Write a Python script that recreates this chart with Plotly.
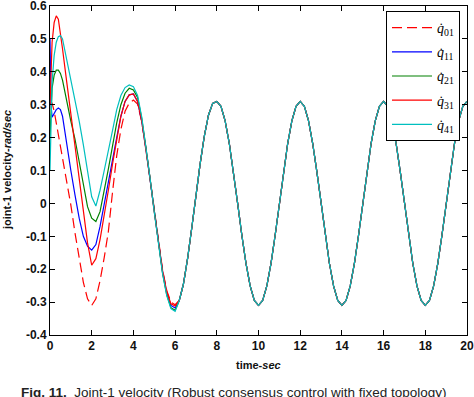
import numpy as np
import plotly.graph_objects as go

# ---- data ----
t_head = [0, 0.05, 0.1, 0.2, 0.3, 0.4, 0.5, 0.6, 0.8, 1.0, 1.2, 1.4, 1.6, 1.8, 2.0,
          2.2, 2.4, 2.6, 2.8, 3.0, 3.2, 3.4, 3.6, 3.8, 4.0, 4.2, 4.4, 4.6, 4.8, 5.0,
          5.2, 5.4, 5.6, 5.8, 6.0, 6.2, 6.4, 6.6, 6.8, 7.0, 7.2, 7.4, 7.6, 7.8]
t_tail = [round(v, 2) for v in np.arange(8.0, 20.0001, 0.2)]

common_62_78 = [-0.295, -0.245, -0.167, -0.074, 0.025, 0.12, 0.204, 0.268, 0.304]

q01_head = [0.30, 0.305, 0.305, 0.28, 0.245, 0.21, 0.175, 0.14,
            0.07, -0.005, -0.09, -0.17, -0.24, -0.29, -0.31, -0.29, -0.235, -0.165,
            -0.085, 0.035, 0.145, 0.225, 0.28, 0.305, 0.314, 0.302, 0.248, 0.168,
            0.078, -0.02, -0.118, -0.202, -0.265, -0.30, -0.308] + common_62_78
q11_head = [0.50, 0.30, 0.262, 0.272, 0.285, 0.29, 0.285, 0.265,
            0.175, 0.10, 0.025, -0.045, -0.10, -0.13, -0.142, -0.125, -0.07, 0.0,
            0.07, 0.135, 0.20, 0.265, 0.31, 0.33, 0.333, 0.31, 0.25, 0.166,
            0.074, -0.025, -0.122, -0.208, -0.272, -0.31, -0.318] + common_62_78
q21_head = [0.20, 0.30, 0.35, 0.39, 0.405, 0.405, 0.395, 0.375,
            0.31, 0.25, 0.195, 0.125, 0.05, -0.01, -0.045, -0.055, -0.025, 0.035,
            0.105, 0.175, 0.245, 0.30, 0.335, 0.35, 0.345, 0.322, 0.258, 0.17,
            0.076, -0.026, -0.125, -0.212, -0.278, -0.317, -0.325] + common_62_78
q31_head = [0.30, 0.42, 0.49, 0.55, 0.57, 0.56, 0.52, 0.47,
            0.37, 0.27, 0.17, 0.075, -0.02, -0.12, -0.188, -0.168, -0.11, -0.04,
            0.04, 0.12, 0.195, 0.265, 0.31, 0.33, 0.333, 0.31, 0.25, 0.166,
            0.074, -0.025, -0.121, -0.205, -0.268, -0.305, -0.312] + common_62_78
q41_head = [0.10, 0.28, 0.37, 0.45, 0.49, 0.507, 0.51, 0.50,
            0.44, 0.38, 0.318, 0.25, 0.178, 0.10, 0.02, -0.008, 0.04, 0.10,
            0.158, 0.222, 0.285, 0.328, 0.352, 0.36, 0.355, 0.328, 0.262, 0.172,
            0.077, -0.026, -0.126, -0.214, -0.28, -0.32, -0.328] + common_62_78

# steady-state part, identical for all joints (t = 8 ... 20)
tail = [0.31, 0.295, 0.251, 0.182, 0.096, 0.0, -0.096, -0.182, -0.251, -0.295,
        -0.31, -0.295, -0.251, -0.182, -0.096, 0.0, 0.096, 0.182, 0.251, 0.295,
        0.31, 0.295, 0.251, 0.182, 0.096, 0.0, -0.096, -0.182, -0.251, -0.295,
        -0.31, -0.295, -0.251, -0.182, -0.096, 0.0, 0.096, 0.182, 0.251, 0.295,
        0.31, 0.295, 0.251, 0.182, 0.096, 0.0, -0.096, -0.182, -0.251, -0.295,
        -0.31, -0.295, -0.251, -0.182, -0.096, 0.0, 0.096, 0.182, 0.251, 0.295,
        0.31]

series_names = ["<i>q̇</i><sub>01</sub>", "<i>q̇</i><sub>11</sub>", "<i>q̇</i><sub>21</sub>",
                "<i>q̇</i><sub>31</sub>", "<i>q̇</i><sub>41</sub>"]
series_heads = [q01_head, q11_head, q21_head, q31_head, q41_head]

x_ticks = [0, 2, 4, 6, 8, 10, 12, 14, 16, 18, 20]
x_tick_labels = ["0", "2", "4", "6", "8", "10", "12", "14", "16", "18", "20"]
y_ticks = [-0.4, -0.3, -0.2, -0.1, 0, 0.1, 0.2, 0.3, 0.4, 0.5, 0.6]
y_tick_labels = ["-0.4", "-0.3", "-0.2", "-0.1", "0", "0.1", "0.2", "0.3", "0.4", "0.5", "0.6"]

# ---- styles ----
colors = ["#ff0000", "#0000ff", "#008000", "#ff0000", "#00bfbf"]
dashes = ["10px,5px", "solid", "solid", "solid", "solid"]

t_all = t_head + t_tail
fig = go.Figure()
for i, (name, head) in enumerate(zip(series_names, series_heads)):
    fig.add_trace(go.Scatter(
        x=t_all, y=head + tail, mode="lines", name=name,
        legendgroup=f"g{i}",
        line=dict(color=colors[i], width=1.2, dash=dashes[i]),
    ))

W, H = 474, 397
ml, mr, mt, mb = 50, 7, 6, 62
pw, ph = W - ml - mr, H - mt - mb

def px_x(px):
    return (px - ml) / pw

def px_y(py):
    return (H - mb - py) / ph

tickfont = dict(family="Liberation Sans", size=12, color="#111111", weight="bold")
axis_common = dict(showgrid=False, zeroline=False, showline=True, linecolor="black",
                   linewidth=1, mirror="allticks", ticks="inside", ticklen=5,
                   tickcolor="black", tickwidth=1, tickfont=tickfont, automargin=False,
                   ticklabeloverflow="allow")

fig.update_layout(
    width=W, height=H,
    margin=dict(l=ml, r=mr, t=mt, b=mb, autoexpand=False),
    paper_bgcolor="white", plot_bgcolor="white",
    showlegend=True,
    legend=dict(x=px_x(386), y=px_y(11), xanchor="left", yanchor="top",
                bordercolor="black", borderwidth=1, bgcolor="white",
                traceorder="grouped", tracegroupgap=3, itemwidth=40,
                font=dict(family="Liberation Serif", size=14, color="black")),
    xaxis=dict(range=[0, 20], tickvals=x_ticks, ticktext=x_tick_labels, **axis_common),
    yaxis=dict(range=[-0.4, 0.6], tickvals=y_ticks, ticktext=y_tick_labels, **axis_common),
)

fig.add_annotation(text="time-<i>sec</i>", xref="paper", yref="paper",
                   x=px_x(258), y=px_y(365), xanchor="center", yanchor="middle",
                   showarrow=False,
                   font=dict(family="Liberation Sans", size=11, color="#111111", weight="bold"))
fig.add_annotation(text="joint-1 velocity-<i>rad/sec</i>", xref="paper", yref="paper",
                   x=px_x(7), y=px_y(170), xanchor="center", yanchor="middle",
                   textangle=-90, showarrow=False,
                   font=dict(family="Liberation Sans", size=11, color="#111111", weight="bold"))
fig.add_annotation(text="<b>Fig. 11.</b>  Joint-1 velocity (Robust consensus control with fixed topology)",
                   xref="paper", yref="paper", x=px_x(19), y=px_y(383),
                   xanchor="left", yanchor="top", showarrow=False,
                   font=dict(family="Liberation Sans", size=13.5, color="#222222"))

fig.write_html("out.html",
               config={"displayModeBar": False},
               post_script="document.body.style.margin='0';document.body.style.overflow='hidden';")
